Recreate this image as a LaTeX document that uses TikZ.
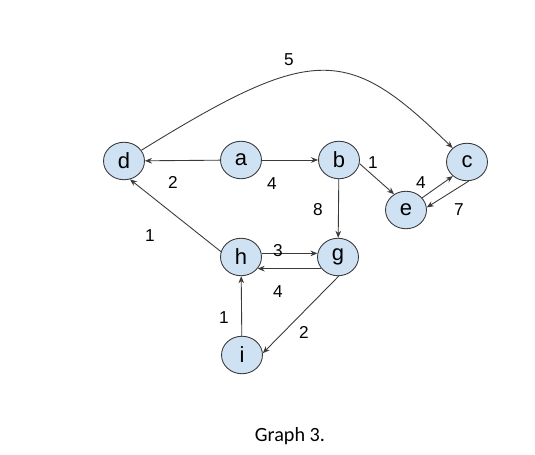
\documentclass[tikz,border=0pt]{standalone}
\usepackage{fontspec}
\setmainfont{Liberation Sans}
\newfontfamily\captionfont{Carlito}
\usetikzlibrary{arrows.meta,shapes.geometric}
\definecolor{NodeBlue}{HTML}{CFE2F3}
\definecolor{EdgeGray}{HTML}{3A3A3A}

\begin{document}
\begin{tikzpicture}[x=0.02cm, y=-0.02cm,
  vert/.style={ellipse, draw=EdgeGray, fill=NodeBlue, line width=0.5pt, minimum width=0.82cm, minimum height=0.75cm, inner sep=0pt, font=\fontsize{12.5}{13}\selectfont},
  arr/.style={-{Stealth[length=4pt,width=3.2pt]}, EdgeGray, line width=0.5pt},
  wt/.style={inner sep=0pt, font=\fontsize{9.8}{11}\selectfont}
]
\path[fill=white] (0,0) rectangle (535,455);
\useasboundingbox (0,0) rectangle (535,455);

\node[vert] (d) at (124,161) {d};
\node[vert] (a) at (241,160) {a};
\node[vert] (b) at (339,160) {b};
\node[vert] (c) at (467,162) {c};
\node[vert] (e) at (406,210) {e};
\node[vert] (h) at (241,257) {h};
\node[vert] (g) at (338,257) {g};
\node[vert] (i) at (242,355) {i};

\draw[arr] (a) -- (d);
\draw[arr] (a) -- (b);
\draw[arr] (b.-10) -- (e.127);
\draw[arr] (e.37) -- (c.225);
\draw[arr] (c.-85) -- (e.7);
\draw[arr] (b) -- (g);
\draw[arr] (h.10) -- (g.170);
\draw[arr] (g.215) -- (h.-35);
\draw[arr] (i) -- (h);
\draw[arr] (g.-88) -- (i.5);
\draw[arr] (h.165) -- (d.-72);
\draw[arr] (d) .. controls (315,43) and (348,46) .. (c);

% weights
\node[wt] (w-dc) at (289,60) {5};
\node[wt] (w-ad) at (173,182) {2};
\node[wt] (w-ab) at (272,184) {4};
\node[wt] (w-be) at (373,163) {1};
\node[wt] (w-ec) at (421,183) {4};
\node[wt] (w-ce) at (459,210) {7};
\node[wt] (w-bg) at (318,210) {8};
\node[wt] (w-hg) at (278,251) {3};
\node[wt] (w-gh) at (278,292) {4};
\node[wt] (w-ih) at (224,318) {1};
\node[wt] (w-gi) at (304,332) {2};
\node[wt] (w-hd) at (150,236) {1};

\node (title) at (290,436) {\captionfont\fontsize{11.5}{13}\selectfont Graph 3.};
\end{tikzpicture}
\end{document}
